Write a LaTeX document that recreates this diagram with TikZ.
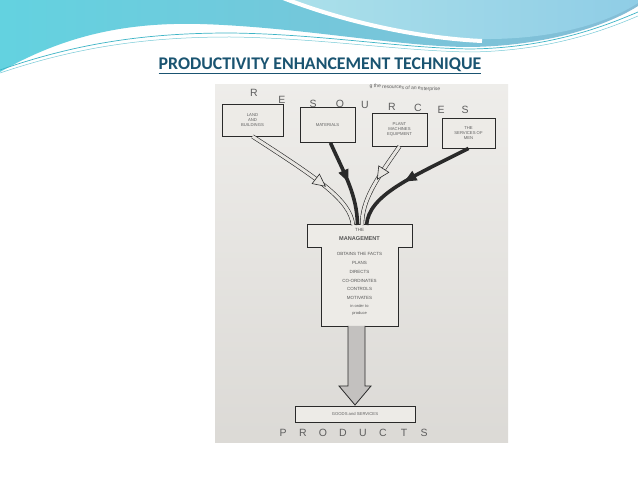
\documentclass[tikz,border=0pt]{standalone}
\usepackage{fontspec}
\setmainfont{Liberation Sans}
\newfontfamily\titlefont{Carlito}
\usetikzlibrary{decorations.markings}
\definecolor{paper}{HTML}{E7E5E1}
\definecolor{boxfill}{HTML}{EDEBE7}
\definecolor{ink}{HTML}{2A2A2A}
\definecolor{print}{HTML}{5E5E5E}
\definecolor{titleblue}{HTML}{1A5471}
\definecolor{waveA}{HTML}{63D2E0}
\definecolor{waveB}{HTML}{85BDD6}
\definecolor{waveC}{HTML}{ABE0EA}
\definecolor{waveD}{HTML}{8FCDE6}
\definecolor{waveline}{HTML}{3DB4C6}
\tikzset{
  resbox/.style={draw=ink, line width=0.8pt, fill=boxfill, inner sep=0pt, align=center,
    font=\fontsize{4.2}{5.4}\selectfont, text=print},
  mtext/.style={inner sep=0pt, font=\fontsize{4.5}{5}\selectfont, text=ink!80},
  spaced/.style={inner sep=0pt, font=\fontsize{10.5}{12}\selectfont, text=print},
  hollowline/.style={draw=ink, line width=0.6pt, double=paper, double distance=3pt},
  blackline/.style={draw=ink, line width=3.6pt},
  openhead/.style={decorate, decoration={markings, mark=at position #1 with
    {\filldraw[fill=paper, draw=ink, line width=0.6pt] (6pt,0pt) -- (-6pt,6pt) -- (-6pt,-6pt) -- cycle;}}},
  solidhead/.style={postaction={decorate}, decoration={markings, mark=at position #1 with
    {\fill[ink] (6pt,0pt) -- (-6pt,5.5pt) -- (-6pt,-5.5pt) -- cycle;}}}
}
\begin{document}
\begin{tikzpicture}[x=1pt,y=-1pt]
\useasboundingbox (0,0) rectangle (638,478);
\fill[white] (0,0) rectangle (638,478);
% header waves
\shade[left color=waveA, right color=waveB]
  (0,0) -- (638,0) -- (638,6) .. controls (610,24) and (550,46) .. (470,47)
  .. controls (400,47) and (300,27) .. (200,24) .. controls (120,22) and (60,38) .. (0,72) -- cycle;
\shade[left color=waveC, right color=waveD]
  (292,0) .. controls (350,22) and (420,37) .. (480,39) .. controls (560,40) and (612,20) .. (638,3) -- (638,0) -- cycle;
\draw[white, line width=4pt] (283,-2) .. controls (345,22) and (418,38) .. (482,41);
\draw[waveline, line width=0.7pt] (0,70) .. controls (80,42) and (150,33) .. (230,33)
  .. controls (320,34) and (400,48) .. (470,49) .. controls (550,48) and (605,26) .. (638,12);
\draw[waveline!70, line width=0.5pt] (0,73) .. controls (80,46) and (150,37) .. (230,37)
  .. controls (320,38) and (400,51) .. (470,52) .. controls (550,51) and (605,30) .. (638,16);
% title
\node[text=titleblue, inner sep=0pt] (title) at (320,66)
  {\titlefont\bfseries\fontsize{17.8}{20}\selectfont\underline{PRODUCTIVITY ENHANCEMENT TECHNIQUE}};
% photo paper
\shade[top color=paper!70!white, bottom color=paper!95!black] (215,85) rectangle (508,443);
\node[inner sep=0pt, text=print, font=\fontsize{5}{6}\selectfont, rotate=-3] (top) at (405,88)
  {g the resources of an enterprise};
% RESOURCES letters
\foreach \ch/\x/\y [count=\i] in {R/254/93, E/282/100, S/313/104, O/340/104, U/365/105, R/392/107, C/418/108, E/441/110, S/465/110}
  \node[spaced] (res\i) at (\x,\y) {\ch};
% resource boxes
\node[resbox, minimum width=61pt, minimum height=32pt] (land) at (252.5,120) {LAND\\AND\\BUILDINGS};
\node[resbox, minimum width=55pt, minimum height=35pt] (mat) at (327.5,125) {MATERIALS};
\node[resbox, minimum width=55pt, minimum height=33pt] (plant) at (399.5,129.5) {PLANT\\MACHINES\\EQUIPMENT};
\node[resbox, minimum width=53pt, minimum height=30pt] (men) at (468.5,133) {THE\\SERVICES OF\\MEN};
% management T shape
\coordinate (e1) at (353,225);
\coordinate (e2) at (357.5,225);
\coordinate (e3) at (362,225);
\coordinate (e4) at (366.5,225);
\draw[ink, line width=0.9pt, fill=boxfill] (307,224) -- (412,224) -- (412,247) -- (398,247) -- (398,326)
  -- (321,326) -- (321,247) -- (307,247) -- cycle;
\node[mtext] (m1) at (359.5,230) {THE};
\node[mtext, font=\fontsize{5.6}{6}\selectfont\bfseries] (m2) at (359.5,239) {MANAGEMENT};
\node[mtext] (m3) at (359.5,254) {OBTAINS THE FACTS};
\node[mtext] (m4) at (359.5,263) {PLANS};
\node[mtext] (m5) at (359.5,272) {DIRECTS};
\node[mtext] (m6) at (359.5,280.5) {CO-ORDINATES};
\node[mtext] (m7) at (359.5,289) {CONTROLS};
\node[mtext] (m8) at (359.5,298) {MOTIVATES};
\node[mtext, font=\fontsize{4}{4.5}\selectfont] (m9) at (359.5,306) {in order to};
\node[mtext, font=\fontsize{4}{4.5}\selectfont] (m10) at (359.5,313) {produce};
% connectors
\draw[hollowline] (land.south) .. controls (320,180) and (350,200) .. (e1);
\path[openhead=0.6] (land.south) .. controls (320,180) and (350,200) .. (e1);
\draw[hollowline] (plant.south) .. controls (376,180) and (362,200) .. (e3);
\path[openhead=0.38] (plant.south) .. controls (376,180) and (362,200) .. (e3);
\draw[blackline, solidhead=0.42] ([xshift=3pt]mat.south) .. controls (345,175) and (357,195) .. (e2);
\draw[blackline, solidhead=0.5] (men.south) .. controls (410,178) and (369,195) .. (e4);
% products arrow
\draw[ink, line width=0.8pt, fill=gray!35!paper] (348,326) -- (348,386) -- (339,386) -- (355,405)
  -- (371,386) -- (365,386) -- (365,326);
\node[resbox, minimum width=120pt, minimum height=16pt, font=\fontsize{4.2}{5}\selectfont] (goods) at (355,414) {GOODS and SERVICES};
% PRODUCTS letters
\foreach \ch/\x [count=\i] in {P/283, R/303, O/323, D/343, U/363, C/383, T/404, S/424}
  \node[spaced] (prod\i) at (\x,433) {\ch};
\end{tikzpicture}
\end{document}
